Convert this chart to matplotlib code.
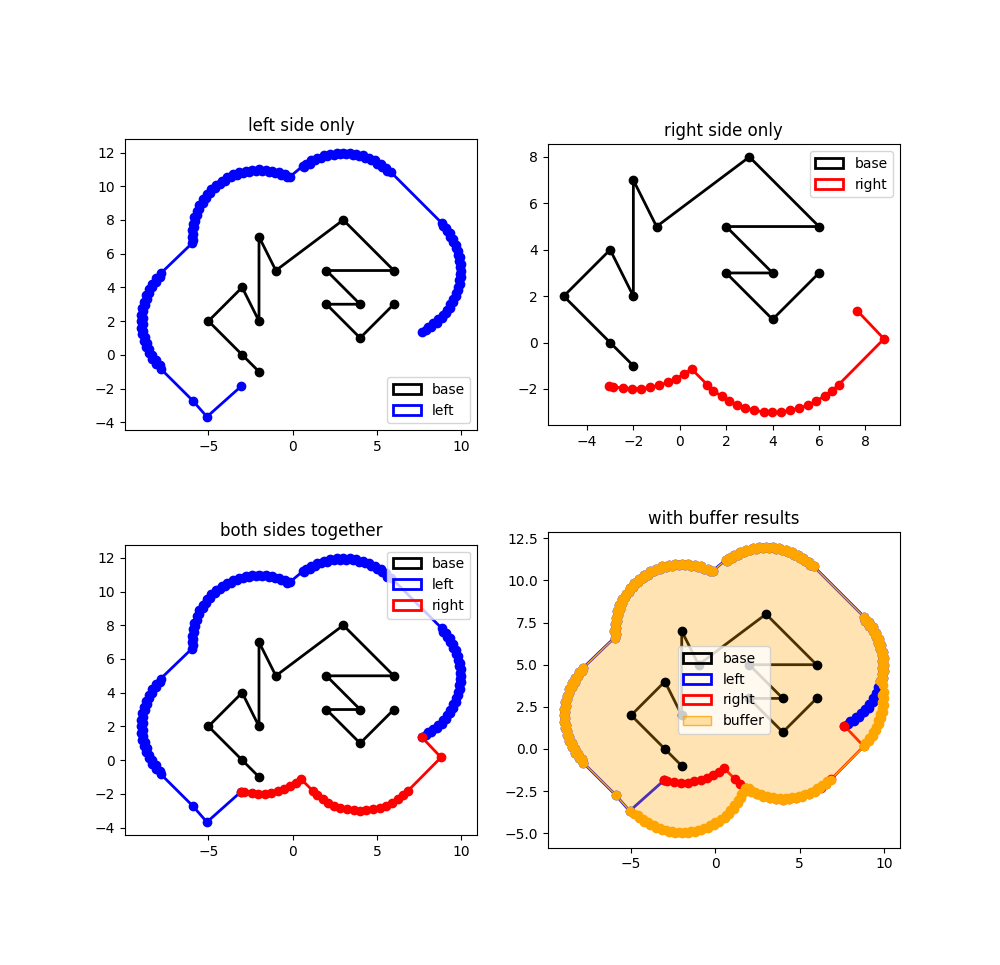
import matplotlib
matplotlib.use("Agg")
import matplotlib.pyplot as plt
from matplotlib.patches import Patch, Polygon

base_x = [-2, -3, -5, -3, -2, -2, -1, 3, 6, 2, 4, 2, 4, 6]
base_y = [-1, 0, 2, 4, 2, 7, 5, 8, 5, 5, 3, 3, 1, 3]

left_x = [-3.06, -5.09, -5.92,
          -7.83, -8.09, -8.33, -8.53, -8.70, -8.83, -8.92, -8.98, -9.00,
          -8.98, -8.92, -8.83, -8.70, -8.53, -8.33, -8.09, -7.83,
          -5.98, -6.00, -5.98, -5.92, -5.83, -5.70, -5.53, -5.33, -5.09,
          -4.83, -4.54, -4.22, -3.89, -3.53, -3.16, -2.78, -2.39, -2.00,
          -1.61, -1.22, -0.84, -0.47, -0.17,
          0.60, 0.78, 1.11, 1.47, 1.84, 2.22, 2.61, 3.00, 3.39, 3.78, 4.16,
          4.53, 4.89, 5.22, 5.54, 5.83,
          8.83, 9.09, 9.33, 9.53, 9.70, 9.83, 9.92, 9.98, 10.00, 9.98, 9.92,
          9.83, 9.70, 9.53, 9.33, 9.09, 8.83, 8.54, 8.22, 7.89, 7.65]
left_y = [-1.87, -3.68, -2.73,
          -0.83, -0.54, -0.22, 0.11, 0.47, 0.84, 1.22, 1.61, 2.00,
          2.39, 2.78, 3.16, 3.53, 3.89, 4.22, 4.54, 4.83,
          6.61, 7.00, 7.39, 7.78, 8.16, 8.53, 8.89, 9.22, 9.54,
          9.83, 10.09, 10.33, 10.53, 10.70, 10.83, 10.92, 10.98, 11.00,
          10.98, 10.92, 10.83, 10.70, 10.56,
          11.20, 11.33, 11.53, 11.70, 11.83, 11.92, 11.98, 12.00, 11.98, 11.92, 11.83,
          11.70, 11.53, 11.33, 11.09, 10.83,
          7.83, 7.54, 7.22, 6.89, 6.53, 6.16, 5.78, 5.39, 5.00, 4.61, 4.22,
          3.84, 3.47, 3.11, 2.78, 2.46, 2.17, 1.91, 1.67, 1.47, 1.37]

# Second row of dots that the dense arcs show just inside the outer row.
left_inner_x = [-7.89, -8.13, -8.34, -8.53, -8.67, -8.78, -8.86, -8.90,
                -8.90, -8.86, -8.78, -8.67, -8.53, -8.34, -8.13, -7.89,
                -5.90, -5.90, -5.86, -5.78, -5.67, -5.53, -5.34, -5.13, -4.89,
                -4.62, -4.32, -4.00, -3.67, -3.31, -2.95, -2.57, -2.19,
                -1.81, -1.43, -1.05, -0.69, -0.33,
                0.68, 1.00, 1.33, 1.69, 2.05, 2.43, 2.81,
                3.19, 3.57, 3.95, 4.31, 4.67, 5.00, 5.32, 5.62]
left_inner_y = [-0.62, -0.32, 0.00, 0.33, 0.69, 1.05, 1.43, 1.81,
                2.19, 2.57, 2.95, 3.31, 3.67, 4.00, 4.32, 4.62,
                6.81, 7.19, 7.57, 7.95, 8.31, 8.67, 9.00, 9.32, 9.62,
                9.89, 10.13, 10.34, 10.53, 10.67, 10.78, 10.86, 10.90,
                10.90, 10.86, 10.78, 10.67, 10.53,
                11.13, 11.34, 11.53, 11.67, 11.78, 11.86, 11.90,
                11.90, 11.86, 11.78, 11.67, 11.53, 11.34, 11.13, 10.89]
left_inner_end_x = [8.89, 9.13, 9.34, 9.53, 9.67, 9.78, 9.86, 9.90, 9.90, 9.86, 9.78,
                    9.67, 9.53, 9.34, 9.13, 8.89, 8.62, 8.32, 8.00]
left_inner_end_y = [7.62, 7.32, 7.00, 6.67, 6.31, 5.95, 5.57, 5.19, 4.81, 4.43, 4.05,
                    3.69, 3.33, 3.00, 2.68, 2.38, 2.11, 1.87, 1.66]

right_x = [-3.06, -2.87, -2.44, -2.05, -1.65, -1.27, -0.88, -0.49, -0.15, 0.19, 0.51,
           1.18, 1.44, 1.80, 2.10, 2.47, 2.83, 3.22, 3.61, 3.98, 4.37, 4.76,
           5.15, 5.54, 5.88, 6.24, 6.55, 6.85, 8.80, 7.65]
right_y = [-1.87, -1.91, -1.96, -2.00, -1.99, -1.93, -1.84, -1.71, -1.55, -1.35, -1.14,
           -1.81, -2.09, -2.30, -2.52, -2.70, -2.82, -2.92, -2.99, -3.01, -2.99, -2.92,
           -2.82, -2.70, -2.52, -2.30, -2.09, -1.81, 0.16, 1.37]

buffer_x = [-5.09, -5.92,
            -7.83, -8.09, -8.33, -8.53, -8.70, -8.83, -8.92, -8.98, -9.00,
            -8.98, -8.92, -8.83, -8.70, -8.53, -8.33, -8.09, -7.83,
            -5.98, -6.00, -5.98, -5.92, -5.83, -5.70, -5.53, -5.33, -5.09,
            -4.83, -4.54, -4.22, -3.89, -3.53, -3.16, -2.78, -2.39, -2.00,
            -1.61, -1.22, -0.84, -0.47, -0.17,
            0.60, 0.78, 1.11, 1.47, 1.84, 2.22, 2.61, 3.00, 3.39, 3.78, 4.16,
            4.53, 4.89, 5.22, 5.54, 5.83,
            8.83, 9.09, 9.33, 9.53, 9.70, 9.83, 9.92, 9.98, 10.00, 9.98, 9.92, 9.87,
            9.92, 9.98, 10.00, 9.98, 9.92, 9.83, 9.70, 9.53, 9.33, 9.09, 8.83,
            6.83, 6.54, 6.22, 5.89, 5.53, 5.16, 4.78, 4.39, 4.00, 3.61, 3.22,
            2.84, 2.47, 2.11, 1.77,
            1.70, 1.53, 1.33, 1.09, 0.83, 0.54, 0.22, -0.11, -0.47, -0.84, -1.22,
            -1.61, -2.00, -2.39, -2.78, -3.16, -3.53, -3.89, -4.22, -4.54, -4.83]
buffer_y = [-3.68, -2.73,
            -0.83, -0.54, -0.22, 0.11, 0.47, 0.84, 1.22, 1.61, 2.00,
            2.39, 2.78, 3.16, 3.53, 3.89, 4.22, 4.54, 4.83,
            6.61, 7.00, 7.39, 7.78, 8.16, 8.53, 8.89, 9.22, 9.54,
            9.83, 10.09, 10.33, 10.53, 10.70, 10.83, 10.92, 10.98, 11.00,
            10.98, 10.92, 10.83, 10.70, 10.56,
            11.20, 11.33, 11.53, 11.70, 11.83, 11.92, 11.98, 12.00, 11.98, 11.92, 11.83,
            11.70, 11.53, 11.33, 11.09, 10.83,
            7.83, 7.54, 7.22, 6.89, 6.53, 6.16, 5.78, 5.39, 5.00, 4.61, 4.22, 4.00,
            3.78, 3.39, 3.00, 2.61, 2.22, 1.84, 1.47, 1.11, 0.78, 0.46, 0.17,
            -1.83, -2.09, -2.33, -2.53, -2.70, -2.83, -2.92, -2.98, -3.00, -2.98, -2.92,
            -2.83, -2.70, -2.53, -2.32,
            -2.53, -2.89, -3.22, -3.54, -3.83, -4.09, -4.33, -4.53, -4.70, -4.83, -4.92,
            -4.98, -5.00, -4.98, -4.92, -4.83, -4.70, -4.53, -4.33, -4.09, -3.83]

buffer_inner_x = [8.89, 9.13, 9.34, 9.53, 9.67, 9.78, 9.86, 9.90, 9.90, 9.86, 9.78,
                  9.90, 9.90, 9.86, 9.78, 9.67, 9.53, 9.34, 9.13, 8.89,
                  6.62, 6.32, 6.00, 5.67, 5.31, 4.95, 4.57, 4.19, 3.81, 3.43, 3.05,
                  2.69, 2.33, 2.00,
                  1.53, 1.34, 1.13, 0.89, 0.62, 0.32, 0.00, -0.33, -0.69, -1.05, -1.43,
                  -1.81, -2.19, -2.57, -2.95, -3.31, -3.67, -4.00, -4.32, -4.62]
buffer_inner_y = [7.62, 7.32, 7.00, 6.67, 6.31, 5.95, 5.57, 5.19, 4.81, 4.43, 4.05,
                  3.19, 2.81, 2.43, 2.05, 1.69, 1.33, 1.00, 0.68, 0.38,
                  -1.89, -2.13, -2.34, -2.53, -2.67, -2.78, -2.86, -2.90, -2.90, -2.86, -2.78,
                  -2.67, -2.53, -2.34,
                  -2.67, -3.00, -3.32, -3.62, -3.89, -4.13, -4.34, -4.53, -4.67, -4.78, -4.86,
                  -4.90, -4.90, -4.86, -4.78, -4.67, -4.53, -4.34, -4.13, -3.89]

titles = ["left side only", "right side only", "both sides together", "with buffer results"]
legend_locs = ["lower right", "upper right", "upper right", "center"]

BASE, LEFT, RIGHT, BUFFER = "black", "blue", "red", "orange"


def draw(ax, x, y, color):
    ax.plot(x, y, color=color, lw=2, zorder=0.5)
    ax.plot(x, y, "o", color=color, zorder=2)


fig, axes = plt.subplots(2, 2, figsize=(10, 9.65), dpi=100)
panels = [axes[0, 0], axes[0, 1], axes[1, 0], axes[1, 1]]

for i, ax in enumerate(panels):
    handles = [Patch(facecolor="none", edgecolor=BASE, lw=2, label="base")]
    draw(ax, base_x, base_y, BASE)
    if i in (0, 2, 3):
        draw(ax, left_x, left_y, LEFT)
        ax.plot(left_inner_x, left_inner_y, "o", color=LEFT, zorder=2)
        ax.plot(left_inner_end_x, left_inner_end_y, "o", color=LEFT, zorder=2)
        handles.append(Patch(facecolor="none", edgecolor=LEFT, lw=2, label="left"))
    if i in (1, 2, 3):
        draw(ax, right_x, right_y, RIGHT)
        handles.append(Patch(facecolor="none", edgecolor=RIGHT, lw=2, label="right"))
    if i == 3:
        pts = list(zip(buffer_x, buffer_y))
        ax.add_patch(Polygon(pts, closed=True, facecolor=(1, 0.647, 0, 0.3),
                             edgecolor=BUFFER, lw=1, zorder=1))
        ax.plot(buffer_x, buffer_y, "o", color=BUFFER, zorder=2)
        ax.plot(left_inner_x, left_inner_y, "o", color=BUFFER, zorder=2)
        ax.plot(buffer_inner_x, buffer_inner_y, "o", color=BUFFER, zorder=2)
        handles.append(Patch(facecolor=(1, 0.647, 0, 0.3),
                             edgecolor=(1, 0.647, 0, 0.8), lw=1, label="buffer"))
    ax.set_aspect("equal")
    ax.set_title(titles[i])
    ax.legend(handles=handles, loc=legend_locs[i])

fig.savefig("out.png", dpi=100)
